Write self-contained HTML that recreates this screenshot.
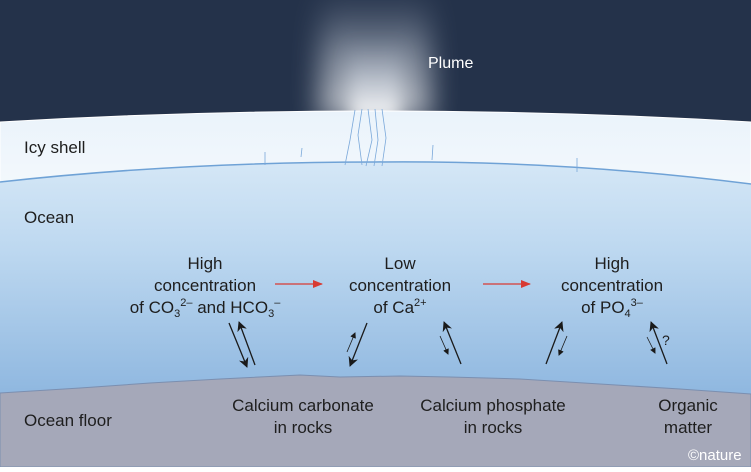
<!DOCTYPE html>
<html><head><meta charset="utf-8"><style>
html,body{margin:0;padding:0}
body{width:751px;height:467px;overflow:hidden;font-family:"Liberation Sans",sans-serif}
</style></head><body>
<svg width="751" height="467" viewBox="0 0 751 467" xmlns="http://www.w3.org/2000/svg" font-family="Liberation Sans, sans-serif">
<defs>
<linearGradient id="oc" x1="0" y1="0" x2="0" y2="1">
<stop offset="0" stop-color="#d8e9f7"/><stop offset="0.4" stop-color="#bdd8f0"/><stop offset="1" stop-color="#8db6df"/>
</linearGradient>
<linearGradient id="ice" x1="0" y1="0" x2="0" y2="1">
<stop offset="0" stop-color="#eaf3fb"/><stop offset="1" stop-color="#f3f8fc"/>
</linearGradient>
<linearGradient id="plv" x1="0" y1="0" x2="0" y2="1">
<stop offset="0" stop-color="#8a95a8" stop-opacity="0"/><stop offset="0.5" stop-color="#c0c7d2" stop-opacity="0.8"/><stop offset="1" stop-color="#ffffff"/>
</linearGradient>
<filter id="bl" x="-1" y="-0.5" width="3" height="2"><feGaussianBlur stdDeviation="14"/></filter>
<filter id="bl2" x="-1" y="-0.5" width="3" height="2"><feGaussianBlur stdDeviation="8"/></filter>
<marker id="rh" markerWidth="10" markerHeight="8" refX="9" refY="4" orient="auto" markerUnits="userSpaceOnUse"><path d="M0,0 L10,4 L0,8 z" fill="#d83a32"/></marker>
<marker id="bh" markerWidth="10" markerHeight="10" refX="9" refY="5" orient="auto" markerUnits="userSpaceOnUse"><path d="M0,0 L10,5 L0,10 L3,5 z" fill="#1a1a1a"/></marker>
<marker id="sh" markerWidth="6" markerHeight="6" refX="5" refY="3" orient="auto" markerUnits="userSpaceOnUse"><path d="M0,0 L6,3 L0,6 z" fill="#1a1a1a"/></marker>
</defs>
<rect width="751" height="467" fill="#24324a"/>
<rect x="320" y="-10" width="110" height="130" fill="url(#plv)" opacity="0.75" filter="url(#bl)"/>
<rect x="350" y="40" width="50" height="80" fill="url(#plv)" filter="url(#bl2)"/>
<rect x="0" y="150" width="751" height="250" fill="url(#oc)"/>
<path d="M0,122 Q375,100 751,122 L751,184 Q560,160 375,162 Q180,162 0,182 Z" fill="url(#ice)" stroke="#ffffff" stroke-width="1"/>
<path d="M0,182 Q180,162 375,162 Q560,160 751,184" fill="none" stroke="#6fa2d6" stroke-width="1.5"/>
<g stroke="#7aa8da" stroke-width="0.8" fill="none">
<path d="M355,110 L350,140 L345,165"/><path d="M362,109 L358,135 L362,165"/><path d="M368,109 L372,140 L366,166"/><path d="M375,109 L378,140 L374,166"/><path d="M382,109 L386,138 L382,166"/><path d="M265,165 L265,152"/><path d="M301,157 L302,148"/><path d="M432,160 L433,145"/><path d="M577,172 L577,158"/>
</g>
<path d="M0,393 L80,388 L150,383 L220,379 L300,375 L340,377 L400,376 L450,377 L520,379 L600,384 L680,389 L751,394 L751,467 L0,467 Z" fill="#a5a8b9" stroke="#7b8fb0" stroke-width="1"/>
<g font-size="17" fill="#1e1e1e">
<text x="428" y="68" fill="#fff" font-size="16">Plume</text>
<text x="24" y="153">Icy shell</text>
<text x="24" y="223">Ocean</text>
<text x="24" y="426">Ocean floor</text>
<g text-anchor="middle">
<text x="205" y="269">High</text><text x="205" y="291">concentration</text>
<text x="205" y="313">of CO<tspan font-size="11" dy="4">3</tspan><tspan font-size="11" dy="-11">2–</tspan><tspan dy="7"> and HCO</tspan><tspan font-size="11" dy="4">3</tspan><tspan font-size="11" dy="-11">–</tspan></text>
<text x="400" y="269">Low</text><text x="400" y="291">concentration</text>
<text x="400" y="313">of Ca<tspan font-size="11" dy="-7">2+</tspan></text>
<text x="612" y="269">High</text><text x="612" y="291">concentration</text>
<text x="612" y="313">of PO<tspan font-size="11" dy="4">4</tspan><tspan font-size="11" dy="-11">3–</tspan></text>
<text x="303" y="411">Calcium carbonate</text><text x="303" y="433">in rocks</text>
<text x="493" y="411">Calcium phosphate</text><text x="493" y="433">in rocks</text>
<text x="688" y="411">Organic</text><text x="688" y="433">matter</text>
</g>
<text x="662" y="345" font-size="14">?</text>
<text x="688" y="460" fill="#fff" font-size="15">©nature</text>
</g>
<line x1="275" y1="284" x2="322" y2="284" stroke="#d83a32" stroke-width="1.3" marker-end="url(#rh)"/>
<line x1="483" y1="284" x2="530" y2="284" stroke="#d83a32" stroke-width="1.3" marker-end="url(#rh)"/>
<g stroke="#1a1a1a" stroke-width="1.3">
<line x1="229" y1="323" x2="247" y2="367" marker-end="url(#bh)"/>
<line x1="255" y1="365" x2="239" y2="322" marker-end="url(#bh)"/>
<line x1="367" y1="323" x2="350" y2="366" marker-end="url(#bh)"/>
<line x1="461" y1="364" x2="444" y2="322" marker-end="url(#bh)"/>
<line x1="546" y1="364" x2="562" y2="322" marker-end="url(#bh)"/>
<line x1="667" y1="364" x2="651" y2="322" marker-end="url(#bh)"/>
</g>
<g stroke="#1a1a1a" stroke-width="0.8">
<line x1="347" y1="352" x2="355" y2="333" marker-end="url(#sh)"/>
<line x1="440" y1="336" x2="448" y2="354" marker-end="url(#sh)"/>
<line x1="567" y1="336" x2="559" y2="355" marker-end="url(#sh)"/>
<line x1="647" y1="337" x2="655" y2="353" marker-end="url(#sh)"/>
</g>
</svg>
</body></html>
